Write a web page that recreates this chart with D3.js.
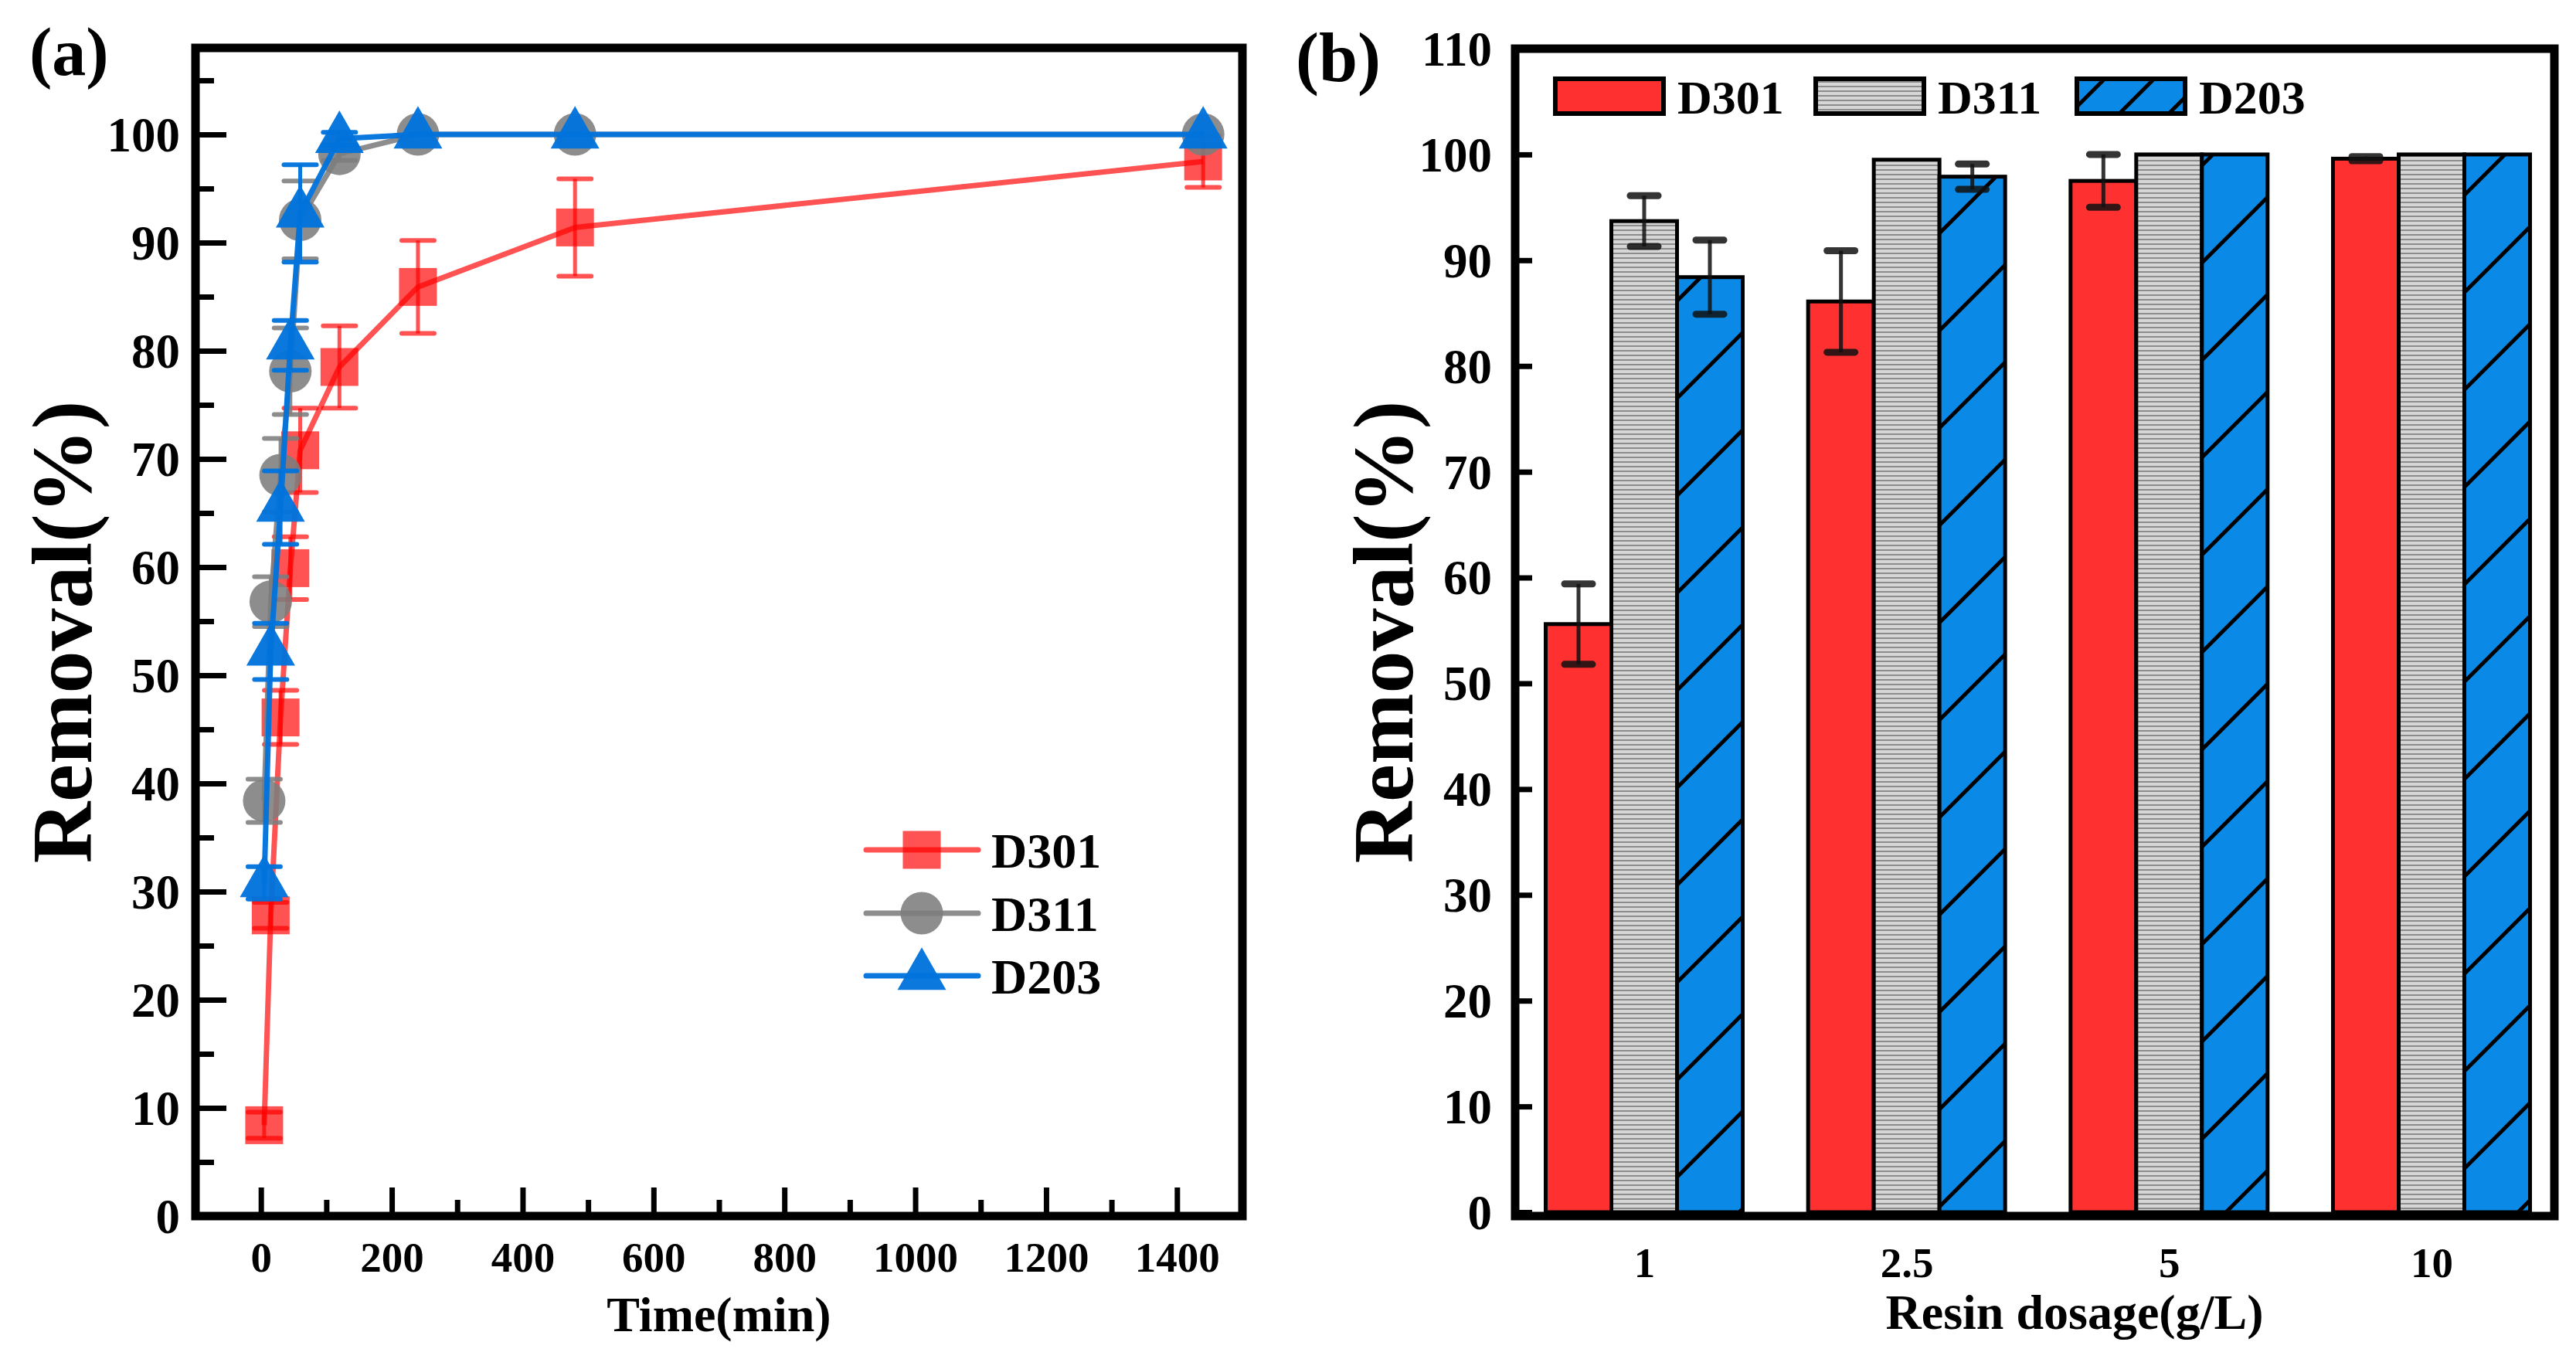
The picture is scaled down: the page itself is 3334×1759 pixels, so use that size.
<!DOCTYPE html>
<html><head><meta charset="utf-8">
<script src="https://cdn.jsdelivr.net/npm/d3@7"></script>
<style>
body{margin:0;background:#fff}
text{font-family:"Liberation Serif","Times New Roman",serif;font-weight:bold;fill:#000}
</style>
</head><body>
<svg id="c" width="3334" height="1759" xmlns="http://www.w3.org/2000/svg"></svg>
<script>
// ---------- Panel (a) data ----------
const times = [5, 15, 30, 45, 60, 120, 240, 480, 1440];
const seriesNames = ["D301", "D311", "D203"];
const d301 = [8.4, 27.8, 46.1, 59.9, 70.8, 78.5, 85.9, 91.4, 97.5];
const d301Err = [1.2, 1.2, 2.5, 2.9, 3.9, 3.8, 4.3, 4.5, 2.4];
const d311 = [38.4, 56.8, 68.5, 78.1, 92.1, 98.2, 100, 100, 100];
const d311Err = [2.0, 2.3, 3.4, 4.0, 3.6, 0.6, 0, 0, 0];
const d203 = [30.8, 52.2, 65.5, 80.5, 92.7, 99.6, 100, 100, 100];
const d203Err = [1.5, 2.6, 3.4, 2.3, 4.5, 0.6, 0, 0, 0];
const xTicksA = [0, 200, 400, 600, 800, 1000, 1200, 1400];
const xMinorA = [100, 300, 500, 700, 900, 1100, 1300];
const yTicksA = [0, 10, 20, 30, 40, 50, 60, 70, 80, 90, 100];
const yMinorA = [5, 15, 25, 35, 45, 55, 65, 75, 85, 95, 105];

// ---------- Panel (b) data ----------
const dosage = ["1", "2.5", "5", "10"];
const barD301 = [55.6, 86.1, 97.5, 99.6];
const barD301Err = [3.8, 4.8, 2.5, 0.2];
const barD311 = [93.7, 99.5, 100, 100];
const barD311Err = [2.4, 0, 0, 0];
const barD203 = [88.4, 97.9, 100, 100];
const barD203Err = [3.5, 1.2, 0, 0];
const yTicksB = [0, 10, 20, 30, 40, 50, 60, 70, 80, 90, 100, 110];

const svg = d3.select("#c");
svg.append("rect").attr("width", 3334).attr("height", 1759).attr("fill", "#fff");

const defs = svg.append("defs");
// gray fine horizontal line pattern
const pg = defs.append("pattern").attr("id", "grayPat").attr("patternUnits", "userSpaceOnUse")
  .attr("width", 8).attr("height", 6);
pg.append("rect").attr("width", 8).attr("height", 6).attr("fill", "#d6d6d6");
pg.append("rect").attr("y", 3).attr("width", 8).attr("height", 2).attr("fill", "#8c8c8c");
// blue hatch patterns
function hatch(id, s, y0) {
  const p = defs.append("pattern").attr("id", id).attr("patternUnits", "userSpaceOnUse")
    .attr("width", s).attr("height", s).attr("y", y0);
  p.append("rect").attr("width", s).attr("height", s).attr("fill", "#0a8ae6");
  p.append("path").attr("d", `M-20,20 L20,-20 M0,${s} L${s},0 M${s-20},${s+20} L${s+20},${s-20}`)
    .attr("stroke", "#000").attr("stroke-width", 5);
}
hatch("bluePat", 126, 40);
hatch("bluePatLeg", 64, 10);

// ================= Panel (a) =================
const A = {l: 253, r: 1608, t: 62, b: 1574};
const xA = d3.scaleLinear().domain([-100, 1500]).range([A.l, A.r]);
const yA = d3.scaleLinear().domain([0, 108]).range([A.b, A.t]);
const gA = svg.append("g");

const colA = {D301: "#ff0000", D311: "#7d7d7d", D203: "#0072dc"};
const opA = {D301: 0.68, D311: 0.88, D203: 0.96};
const valsA = {D301: d301, D311: d311, D203: d203};
const errsA = {D301: d301Err, D311: d311Err, D203: d203Err};

function triPath(w, h) {
  return `M0,${-2*h/3} L${w/2},${h/3} L${-w/2},${h/3} Z`;
}
function drawMarker(g, name, x, y, color, op) {
  if (name === "D301") {
    g.append("rect").attr("x", x - 24.5).attr("y", y - 24.5).attr("width", 49).attr("height", 49)
      .attr("fill", color).attr("fill-opacity", op);
  } else if (name === "D311") {
    g.append("circle").attr("cx", x).attr("cy", y).attr("r", 27.5).attr("fill", color).attr("fill-opacity", op);
  } else {
    g.append("path").attr("d", triPath(63, 55)).attr("transform", `translate(${x},${y})`)
      .attr("fill", color).attr("fill-opacity", op);
  }
}

seriesNames.forEach(name => {
  const g = gA.append("g");
  const col = colA[name], op = opA[name];
  const vals = valsA[name], errs = errsA[name];
  times.forEach((t, i) => {
    if (errs[i] <= 0) return;
    const x = xA(t), y1 = yA(vals[i] - errs[i]), y2 = yA(vals[i] + errs[i]);
    g.append("line").attr("x1", x).attr("x2", x).attr("y1", y1).attr("y2", y2)
      .attr("stroke", col).attr("stroke-opacity", op).attr("stroke-width", 5);
    [y1, y2].forEach(yy => g.append("line").attr("x1", x - 21).attr("x2", x + 21).attr("y1", yy).attr("y2", yy)
      .attr("stroke", col).attr("stroke-opacity", op).attr("stroke-width", 6).attr("stroke-linecap", "round"));
  });
  const line = d3.line().x((d, i) => xA(times[i])).y(d => yA(d));
  g.append("path").attr("d", line(vals)).attr("fill", "none").attr("stroke", col)
    .attr("stroke-opacity", op).attr("stroke-width", 7).attr("stroke-linejoin", "round");
  times.forEach((t, i) => drawMarker(g, name, xA(t), yA(vals[i]), col, op));
});

const axLA = gA.append("g").attr("transform", `translate(${A.l},0)`)
  .call(d3.axisLeft(yA).tickValues(yTicksA).tickSize(-40).tickPadding(20).tickFormat(d3.format("d")));
const axLAm = gA.append("g").attr("transform", `translate(${A.l},0)`)
  .call(d3.axisLeft(yA).tickValues(yMinorA).tickSize(-24).tickFormat(""));
const axBA = gA.append("g").attr("transform", `translate(0,${A.b})`)
  .call(d3.axisBottom(xA).tickValues(xTicksA).tickSize(-37).tickPadding(33).tickFormat(d3.format("d")));
const axBAm = gA.append("g").attr("transform", `translate(0,${A.b})`)
  .call(d3.axisBottom(xA).tickValues(xMinorA).tickSize(-21).tickFormat(""));
[axLA, axLAm, axBA, axBAm].forEach(a => {
  a.select(".domain").remove();
  a.selectAll(".tick line").attr("stroke", "#000").attr("stroke-width", 7);
});
axLA.selectAll("text").attr("font-size", 63).attr("dy", "0.34em");
axBA.selectAll("text").attr("font-size", 55);
gA.append("rect").attr("x", A.l).attr("y", A.t).attr("width", A.r - A.l).attr("height", A.b - A.t)
  .attr("fill", "none").attr("stroke", "#000").attr("stroke-width", 11);

const legRowsA = [1100, 1182, 1263];
seriesNames.forEach((name, i) => {
  const y = legRowsA[i];
  gA.append("line").attr("x1", 1121).attr("x2", 1266).attr("y1", y).attr("y2", y)
    .attr("stroke", colA[name]).attr("stroke-opacity", opA[name]).attr("stroke-width", 7).attr("stroke-linecap", "round");
  drawMarker(gA, name, 1193, y, colA[name], opA[name]);
  gA.append("text").attr("x", 1283).attr("y", y + 23).attr("font-size", 64).text(name);
});

gA.append("text").attr("x", (A.l + A.r) / 2).attr("y", 1723).attr("text-anchor", "middle")
  .attr("font-size", 64).text("Time(min)");
gA.append("text").attr("transform", "translate(118,818) rotate(-90)").attr("text-anchor", "middle")
  .attr("font-size", 110).text("Removal(%)");
gA.append("text").attr("x", 38).attr("y", 97).attr("font-size", 88).text("(a)");

// ================= Panel (b) =================
const B = {l: 1961, r: 3306, t: 63, b: 1574};
const yB = d3.scaleLinear().domain([0, 110]).range([1569, 63]);
const xB = d3.scalePoint().domain(dosage).range([2128, 3147]);
const sub = d3.scaleBand().domain(seriesNames).range([-127.5, 127.5]);
const gB = svg.append("g");
const fillB = {D301: "#ff3030", D311: "url(#grayPat)", D203: "url(#bluePat)"};
const fillLeg = {D301: "#ff3030", D311: "url(#grayPat)", D203: "url(#bluePatLeg)"};
const valsB = {D301: barD301, D311: barD311, D203: barD203};
const errsB = {D301: barD301Err, D311: barD311Err, D203: barD203Err};

seriesNames.forEach(name => {
  gB.append("g").selectAll("rect").data(dosage).join("rect")
    .attr("x", (d) => xB(d) + sub(name))
    .attr("y", (d, i) => yB(valsB[name][i]))
    .attr("width", sub.bandwidth())
    .attr("height", (d, i) => yB(0) - yB(valsB[name][i]))
    .attr("fill", fillB[name]).attr("stroke", "#000").attr("stroke-width", 5);
});
seriesNames.forEach(name => {
  dosage.forEach((d, i) => {
    const e = errsB[name][i];
    if (e <= 0) return;
    const v = valsB[name][i];
    const x = xB(d) + sub(name) + sub.bandwidth() / 2;
    const y1 = yB(v - e), y2 = yB(v + e);
    gB.append("line").attr("x1", x).attr("x2", x).attr("y1", y1).attr("y2", y2)
      .attr("stroke", "#111").attr("stroke-opacity", 0.85).attr("stroke-width", 5);
    [y1, y2].forEach(yy => gB.append("line").attr("x1", x - 18).attr("x2", x + 18).attr("y1", yy).attr("y2", yy)
      .attr("stroke", "#111").attr("stroke-opacity", 0.85).attr("stroke-width", 9).attr("stroke-linecap", "round"));
  });
});

const axLB = gB.append("g").attr("transform", `translate(${B.l},0)`)
  .call(d3.axisLeft(yB).tickValues(yTicksB).tickSize(-22).tickPadding(30).tickFormat(d3.format("d")));
const axBB = gB.append("g").attr("transform", `translate(0,${B.b})`)
  .call(d3.axisBottom(xB).tickSize(0).tickPadding(40));
[axLB, axBB].forEach(a => {
  a.select(".domain").remove();
  a.selectAll(".tick line").attr("stroke", "#000").attr("stroke-width", 7);
});
axLB.selectAll("text").attr("font-size", 63).attr("dy", "0.34em");
axBB.selectAll("text").attr("font-size", 55);
gB.append("rect").attr("x", B.l).attr("y", B.t).attr("width", B.r - B.l).attr("height", B.b - B.t)
  .attr("fill", "none").attr("stroke", "#000").attr("stroke-width", 11);

const legXB = [2013, 2350, 2688];
seriesNames.forEach((name, i) => {
  gB.append("rect").attr("x", legXB[i]).attr("y", 102).attr("width", 140).attr("height", 45)
    .attr("fill", fillLeg[name]).attr("stroke", "#000").attr("stroke-width", 6);
  gB.append("text").attr("x", legXB[i] + 158).attr("y", 147).attr("font-size", 62).text(name);
});

gB.append("text").attr("x", 2685).attr("y", 1720).attr("text-anchor", "middle")
  .attr("font-size", 64).text("Resin dosage(g/L)");
gB.append("text").attr("transform", "translate(1828,818) rotate(-90)").attr("text-anchor", "middle")
  .attr("font-size", 110).text("Removal(%)");
gB.append("text").attr("x", 1677).attr("y", 105).attr("font-size", 90).text("(b)");
</script>
</body></html>
